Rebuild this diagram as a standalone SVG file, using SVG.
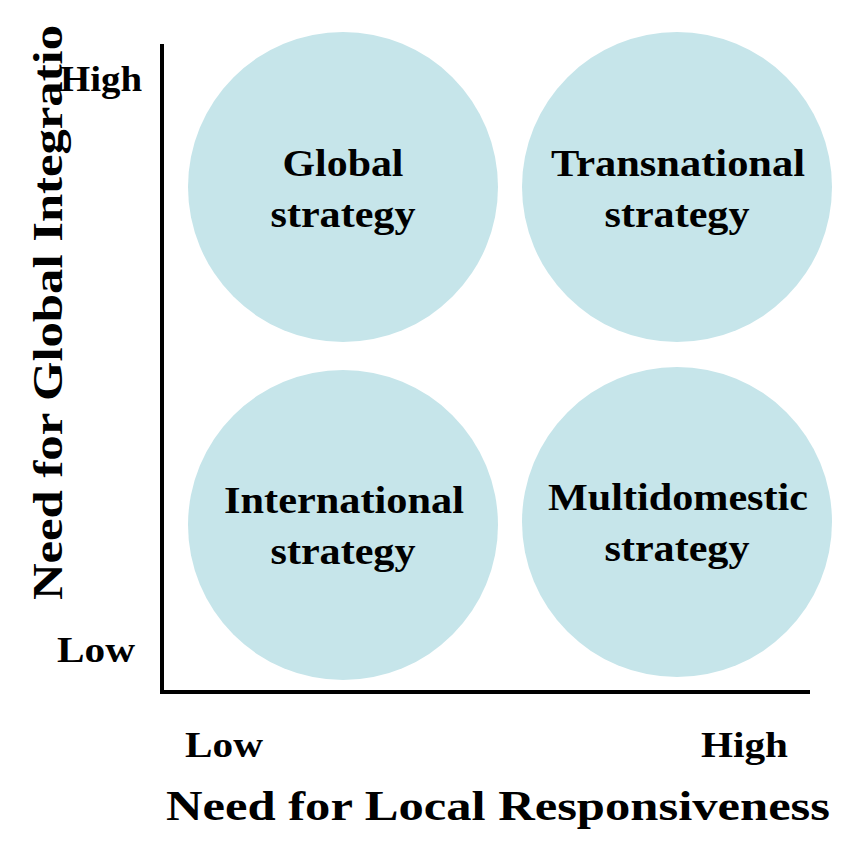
<svg xmlns="http://www.w3.org/2000/svg" width="845" height="845" viewBox="0 0 845 845">
<style>
.c{fill:#c6e5ea}
.t{font-family:"Liberation Serif",serif;font-weight:bold;fill:#000}
.n{font-size:38px;text-anchor:middle}
.a{font-size:35px}
.ax{stroke:#000;stroke-width:4;fill:none}
</style>
<rect width="845" height="845" fill="#fff"/>
<g id="global"><circle class="c" cx="343" cy="187" r="155"/><text class="t n" x="343" y="176" textLength="121" lengthAdjust="spacingAndGlyphs">Global</text><text class="t n" x="343" y="227" textLength="145" lengthAdjust="spacingAndGlyphs">strategy</text></g>
<g id="transnational"><circle class="c" cx="677" cy="187" r="155"/><text class="t n" x="678" y="176" textLength="254" lengthAdjust="spacingAndGlyphs">Transnational</text><text class="t n" x="677" y="227" textLength="145" lengthAdjust="spacingAndGlyphs">strategy</text></g>
<g id="international"><circle class="c" cx="343" cy="525" r="155"/><text class="t n" x="344" y="513" textLength="240" lengthAdjust="spacingAndGlyphs">International</text><text class="t n" x="343" y="564" textLength="145" lengthAdjust="spacingAndGlyphs">strategy</text></g>
<g id="multidomestic"><circle class="c" cx="677" cy="522" r="155"/><text class="t n" x="678" y="510" textLength="260" lengthAdjust="spacingAndGlyphs">Multidomestic</text><text class="t n" x="677" y="561" textLength="145" lengthAdjust="spacingAndGlyphs">strategy</text></g>
<g id="axes"><path class="ax" d="M162 44 V692 H810"/></g>
<text class="t a" x="60" y="91" textLength="82" lengthAdjust="spacingAndGlyphs">High</text>
<text class="t a" x="57" y="662" textLength="78" lengthAdjust="spacingAndGlyphs">Low</text>
<text class="t a" x="185" y="757" textLength="78" lengthAdjust="spacingAndGlyphs">Low</text>
<text class="t a" x="701" y="757" textLength="87" lengthAdjust="spacingAndGlyphs">High</text>
<text class="t" x="166" y="820" font-size="43" textLength="664" lengthAdjust="spacingAndGlyphs">Need for Local Responsiveness</text>
<text class="t" transform="translate(62,600) rotate(-90)" font-size="43" textLength="575" lengthAdjust="spacingAndGlyphs">Need for Global Integratio</text>
</svg>
